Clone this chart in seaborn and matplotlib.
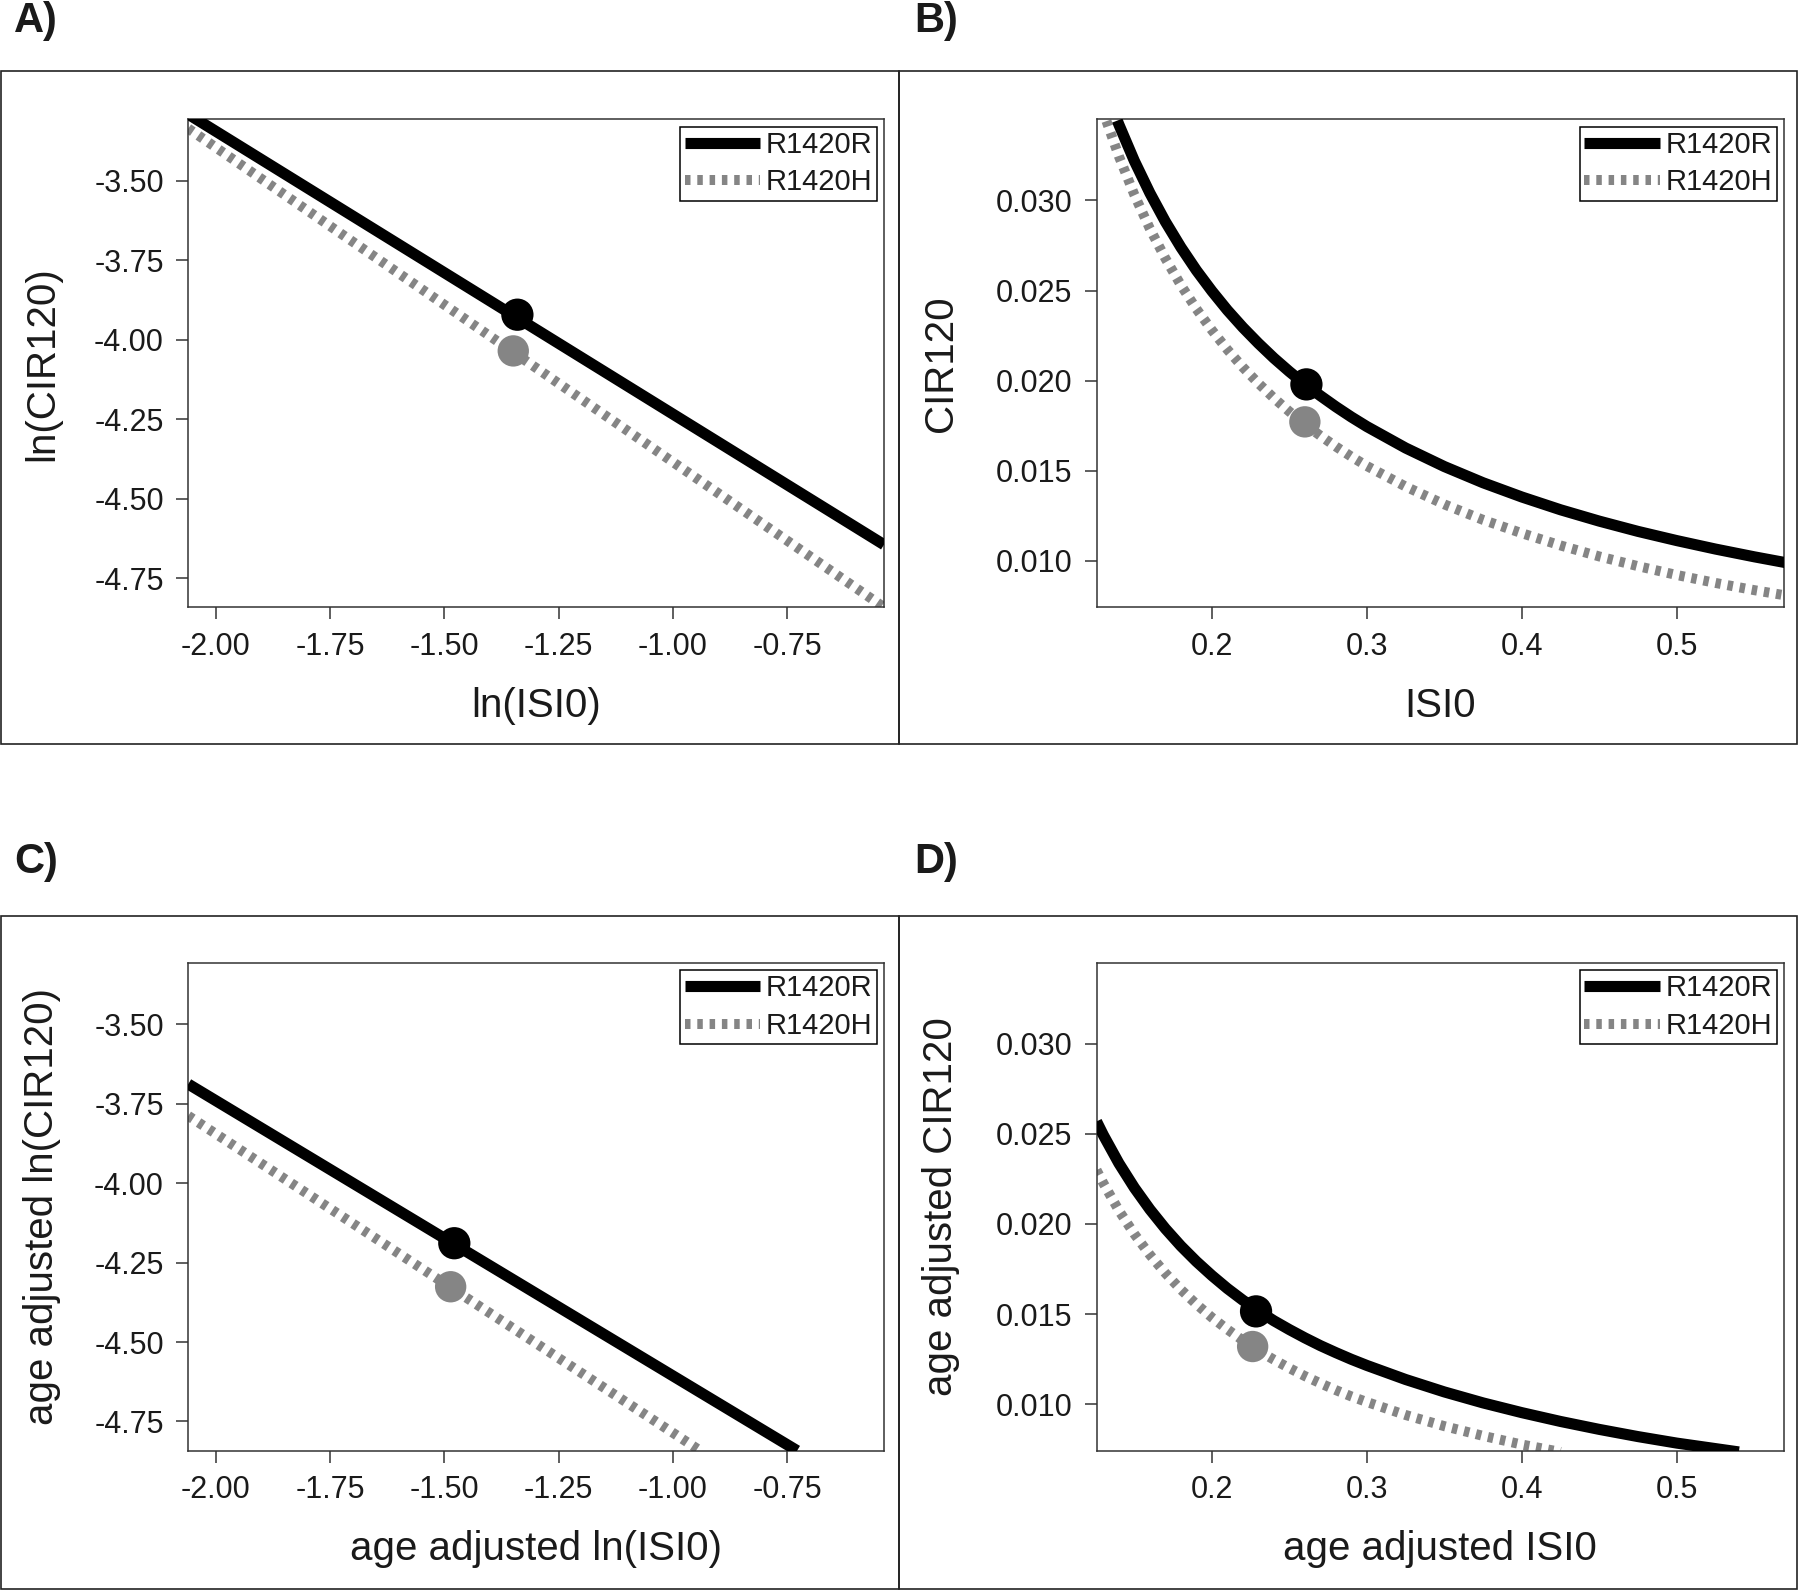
import matplotlib
matplotlib.use('Agg')
import matplotlib.pyplot as plt
from matplotlib.patches import Rectangle
from matplotlib.ticker import FormatStrFormatter
import seaborn as sns

# ── values ────────────────────────────────────────────────────────
labels = ['R1420R', 'R1420H']

# A) ln(CIR120) vs ln(ISI0)
a_x_r = [-2.06, -0.538]
a_y_r = [-3.29, -4.645]
a_x_h = [-2.06, -0.538]
a_y_h = [-3.335, -4.842]
a_pt_x = [-1.340, -1.349]
a_pt_y = [-3.921, -4.035]

# B) CIR120 vs ISI0
b_x_r = [0.139, 0.14, 0.15, 0.16, 0.17, 0.18, 0.19, 0.20, 0.21, 0.22,
         0.23, 0.24, 0.25, 0.26, 0.27, 0.28, 0.29, 0.30, 0.325, 0.35,
         0.375, 0.40, 0.425, 0.45, 0.475, 0.50, 0.525, 0.55, 0.57]
b_y_r = [0.03443, 0.03421, 0.03219, 0.03041, 0.02882, 0.02740, 0.02612,
         0.02497, 0.02391, 0.02295, 0.02207, 0.02125, 0.02050, 0.01980,
         0.01916, 0.01855, 0.01798, 0.01745, 0.01626, 0.01523, 0.01433,
         0.01354, 0.01283, 0.01220, 0.01163, 0.01112, 0.01065, 0.01022,
         0.00990]
b_x_h = [0.132, 0.14, 0.15, 0.16, 0.17, 0.18, 0.19, 0.20, 0.21, 0.22,
         0.23, 0.24, 0.25, 0.26, 0.27, 0.28, 0.29, 0.30, 0.325, 0.35,
         0.375, 0.40, 0.425, 0.45, 0.475, 0.50, 0.525, 0.55, 0.57]
b_y_h = [0.03440, 0.03245, 0.03031, 0.02843, 0.02678, 0.02530, 0.02398,
         0.02280, 0.02172, 0.02074, 0.01985, 0.01903, 0.01828, 0.01758,
         0.01694, 0.01634, 0.01578, 0.01526, 0.01412, 0.01313, 0.01227,
         0.01153, 0.01085, 0.01024, 0.00970, 0.00921, 0.00877, 0.00837,
         0.00808]
b_pt_x = [0.261, 0.260]
b_pt_y = [0.01979, 0.01771]

# C) age adjusted, ln scale
c_x_r = [-2.06, -0.728]
c_y_r = [-3.688, -4.842]
c_x_h = [-2.06, -0.94]
c_y_h = [-3.788, -4.842]
c_pt_x = [-1.478, -1.486]
c_pt_y = [-4.189, -4.326]

# D) age adjusted, raw scale
d_x_r = [0.1256, 0.13, 0.14, 0.15, 0.16, 0.17, 0.18, 0.19, 0.20, 0.21,
         0.22, 0.23, 0.24, 0.25, 0.26, 0.27, 0.28, 0.29, 0.30, 0.325,
         0.35, 0.375, 0.40, 0.425, 0.45, 0.475, 0.50, 0.54]
d_y_r = [0.02569, 0.02493, 0.02337, 0.02201, 0.02081, 0.01974, 0.01878,
         0.01792, 0.01714, 0.01642, 0.01577, 0.01518, 0.01463, 0.01414,
         0.01368, 0.01325, 0.01286, 0.01249, 0.01215, 0.01137, 0.01068,
         0.01007, 0.00953, 0.00904, 0.00860, 0.00820, 0.00784, 0.00735]
d_x_h = [0.1256, 0.13, 0.14, 0.15, 0.16, 0.17, 0.18, 0.19, 0.20, 0.21,
         0.22, 0.23, 0.24, 0.25, 0.26, 0.27, 0.28, 0.29, 0.30, 0.325,
         0.35, 0.375, 0.40, 0.425]
d_y_h = [0.02299, 0.02226, 0.02075, 0.01944, 0.01829, 0.01727, 0.01636,
         0.01555, 0.01481, 0.01415, 0.01354, 0.01298, 0.01247, 0.01200,
         0.01156, 0.01116, 0.01078, 0.01043, 0.01012, 0.00940, 0.00878,
         0.00824, 0.00776, 0.00735]
d_pt_x = [0.2285, 0.2263]
d_pt_y = [0.01515, 0.0132]

ln_xticks = [-2.00, -1.75, -1.50, -1.25, -1.00, -0.75]
ln_yticks = [-3.50, -3.75, -4.00, -4.25, -4.50, -4.75]
raw_xticks = [0.2, 0.3, 0.4, 0.5]
raw_yticks = [0.010, 0.015, 0.020, 0.025, 0.030]

# ── style ──────────────────────────────────────────────────────────
sns.set_theme(style='white')
plt.rcParams['font.family'] = ['Liberation Sans', 'DejaVu Sans']
plt.rcParams['axes.unicode_minus'] = False

BLACK = '#000000'
GREY = '#858585'
FRAME = '#333333'
TEXT = '#1a1a1a'

fig = plt.figure(figsize=(18, 15.91), dpi=100)


def draw_panel(rect, xr, yr, xh, yh, px, py, xlim, ylim, xticks, yticks,
               xfmt, yfmt, xlabel, ylabel, ylab_x):
    ax = fig.add_axes(rect)
    sns.lineplot(x=xr, y=yr, ax=ax, color=BLACK, linewidth=8,
                 solid_capstyle='butt', solid_joinstyle='round',
                 label=labels[0], zorder=3)
    sns.lineplot(x=xh, y=yh, ax=ax, color=GREY, linewidth=7.2,
                 linestyle=(0, (0.55, 0.68)), dash_capstyle='butt',
                 label=labels[1], zorder=2)
    sns.scatterplot(x=px[:1], y=py[:1], ax=ax, color=BLACK, s=540,
                    edgecolor='none', zorder=5, legend=False)
    sns.scatterplot(x=px[1:], y=py[1:], ax=ax, color=GREY, s=510,
                    edgecolor='none', zorder=5, legend=False)

    ax.set_xlim(*xlim)
    ax.set_ylim(*ylim)
    ax.set_xticks(xticks)
    ax.set_yticks(yticks)
    ax.xaxis.set_major_formatter(FormatStrFormatter(xfmt))
    ax.yaxis.set_major_formatter(FormatStrFormatter(yfmt))
    ax.tick_params(direction='out', length=8.6, width=1.1, color=FRAME,
                   labelsize=22, labelcolor=TEXT, pad=9,
                   bottom=True, left=True)
    for sp in ax.spines.values():
        sp.set_color(FRAME)
        sp.set_linewidth(1.1)

    ax.set_xlabel(xlabel, fontsize=29, color=TEXT, va='center')
    ax.set_ylabel(ylabel, fontsize=29, color=TEXT, va='center')
    ax.xaxis.set_label_coords(0.5, -0.202)
    ax.yaxis.set_label_coords(ylab_x, 0.5)

    handles = ax.get_lines()[:2]
    leg = ax.legend(handles, labels, loc='upper right', fontsize=21,
                    frameon=True, fancybox=False, framealpha=1,
                    edgecolor=BLACK, borderpad=0.15, labelspacing=0.32,
                    handlelength=2.6, handletextpad=0.18,
                    borderaxespad=0.25)
    leg.get_frame().set_linewidth(1.1)
    for t in leg.get_texts():
        t.set_color(TEXT)
    return ax


ln_xlim = (-2.060, -0.538)
ln_ylim = (-4.842, -3.306)
raw_xlim = (0.1256, 0.569)
raw_ylim = (0.00742, 0.0345)

top_b, bot_b, h = 0.6183, 0.0882, 0.3067
left_a, w_a = 0.1046, 0.3865
left_b, w_b = 0.6092, 0.3818

draw_panel([left_a, top_b, w_a, h], a_x_r, a_y_r, a_x_h, a_y_h,
           a_pt_x, a_pt_y, ln_xlim, ln_ylim, ln_xticks, ln_yticks,
           '%.2f', '%.2f', 'ln(ISI0)', 'ln(CIR120)', -0.2096)
draw_panel([left_b, top_b, w_b, h], b_x_r, b_y_r, b_x_h, b_y_h,
           b_pt_x, b_pt_y, raw_xlim, raw_ylim, raw_xticks, raw_yticks,
           '%.1f', '%.3f', 'ISI0', 'CIR120', -0.2263)
draw_panel([left_a, bot_b, w_a, h], c_x_r, c_y_r, c_x_h, c_y_h,
           c_pt_x, c_pt_y, ln_xlim, ln_ylim, ln_xticks, ln_yticks,
           '%.2f', '%.2f', 'age adjusted ln(ISI0)',
           'age adjusted ln(CIR120)', -0.2096)
draw_panel([left_b, bot_b, w_b, h], d_x_r, d_y_r, d_x_h, d_y_h,
           d_pt_x, d_pt_y, raw_xlim, raw_ylim, raw_xticks, raw_yticks,
           '%.1f', '%.3f', 'age adjusted ISI0', 'age adjusted CIR120',
           -0.2263)

# ── panel frames and letters ───────────────────────────────────────
for x0, y0 in [(0.0006, 0.5324), (0.4994, 0.5324),
               (0.0006, 0.0013), (0.4994, 0.0013)]:
    fig.patches.append(Rectangle((x0, y0), 0.4988, 0.4230,
                                 transform=fig.transFigure, fill=False,
                                 edgecolor='#222222', linewidth=1.2))

for letter, x, y in [('A)', 0.008, 0.987), ('B)', 0.508, 0.987),
                     ('C)', 0.008, 0.458), ('D)', 0.508, 0.458)]:
    fig.text(x, y, letter, fontsize=30, fontweight='bold', color=TEXT,
             ha='left', va='center')

plt.savefig('out.png', dpi=100)
